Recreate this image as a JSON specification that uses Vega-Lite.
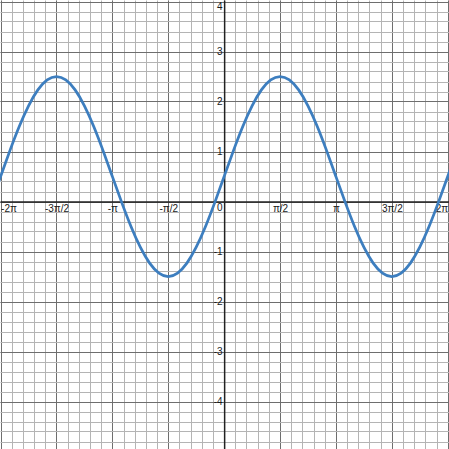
{
  "$schema": "https://vega.github.io/schema/vega-lite/v6.json",
  "width": 449,
  "height": 449,
  "padding": 0,
  "autosize": {"type": "none"},
  "background": "white",
  "config": {
    "view": {"stroke": null},
    "axis": {
      "labelFont": "Liberation Sans",
      "labelFontSize": 10,
      "labelColor": "#1a1a1a",
      "title": null
    }
  },
  "data": {
    "values": [
      {"x": -6.544985, "y": -0.017638},
      {"x": -6.283185, "y": 0.5},
      {"x": -6.021386, "y": 1.017638},
      {"x": -5.759587, "y": 1.5},
      {"x": -5.497787, "y": 1.914214},
      {"x": -5.235988, "y": 2.232051},
      {"x": -4.974188, "y": 2.431852},
      {"x": -4.712389, "y": 2.5},
      {"x": -4.45059, "y": 2.431852},
      {"x": -4.18879, "y": 2.232051},
      {"x": -3.926991, "y": 1.914214},
      {"x": -3.665191, "y": 1.5},
      {"x": -3.403392, "y": 1.017638},
      {"x": -3.141593, "y": 0.5},
      {"x": -2.879793, "y": -0.017638},
      {"x": -2.617994, "y": -0.5},
      {"x": -2.356194, "y": -0.914214},
      {"x": -2.094395, "y": -1.232051},
      {"x": -1.832596, "y": -1.431852},
      {"x": -1.570796, "y": -1.5},
      {"x": -1.308997, "y": -1.431852},
      {"x": -1.047198, "y": -1.232051},
      {"x": -0.785398, "y": -0.914214},
      {"x": -0.523599, "y": -0.5},
      {"x": -0.261799, "y": -0.017638},
      {"x": 0, "y": 0.5},
      {"x": 0.261799, "y": 1.017638},
      {"x": 0.523599, "y": 1.5},
      {"x": 0.785398, "y": 1.914214},
      {"x": 1.047198, "y": 2.232051},
      {"x": 1.308997, "y": 2.431852},
      {"x": 1.570796, "y": 2.5},
      {"x": 1.832596, "y": 2.431852},
      {"x": 2.094395, "y": 2.232051},
      {"x": 2.356194, "y": 1.914214},
      {"x": 2.617994, "y": 1.5},
      {"x": 2.879793, "y": 1.017638},
      {"x": 3.141593, "y": 0.5},
      {"x": 3.403392, "y": -0.017638},
      {"x": 3.665191, "y": -0.5},
      {"x": 3.926991, "y": -0.914214},
      {"x": 4.18879, "y": -1.232051},
      {"x": 4.45059, "y": -1.431852},
      {"x": 4.712389, "y": -1.5},
      {"x": 4.974188, "y": -1.431852},
      {"x": 5.235988, "y": -1.232051},
      {"x": 5.497787, "y": -0.914214},
      {"x": 5.759587, "y": -0.5},
      {"x": 6.021386, "y": -0.017638},
      {"x": 6.283185, "y": 0.5},
      {"x": 6.544985, "y": 1.017638}
    ]
  },
  "layer": [
    {
      "mark": {"type": "line", "opacity": 0},
      "encoding": {
        "x": {
          "field": "x",
          "type": "quantitative",
          "scale": {"domain": [-6.3, 6.32], "nice": false, "zero": false},
          "axis": {
            "orient": "bottom",
            "grid": true,
            "gridColor": "#b4b4b4",
            "gridWidth": 1,
            "labels": false,
            "ticks": false,
            "domain": false,
            "values": [-6.283185, -5.969026, -5.654867, -5.340708, -5.026548, -4.712389, -4.39823, -4.08407, -3.769911, -3.455752, -3.141593, -2.827433, -2.513274, -2.199115, -1.884956, -1.570796, -1.256637, -0.942478, -0.628319, -0.314159, 0, 0.314159, 0.628319, 0.942478, 1.256637, 1.570796, 1.884956, 2.199115, 2.513274, 2.827433, 3.141593, 3.455752, 3.769911, 4.08407, 4.39823, 4.712389, 5.026548, 5.340708, 5.654867, 5.969026, 6.283185]
          }
        },
        "y": {
          "field": "y",
          "type": "quantitative",
          "scale": {"domain": [-4.95, 4.03], "nice": false, "zero": false},
          "axis": {
            "orient": "left",
            "grid": true,
            "gridColor": "#b4b4b4",
            "gridWidth": 1,
            "labels": false,
            "ticks": false,
            "domain": false,
            "values": [-4.8, -4.6, -4.4, -4.2, -4, -3.8, -3.6, -3.4, -3.2, -3, -2.8, -2.6, -2.4, -2.2, -2, -1.8, -1.6, -1.4, -1.2, -1, -0.8, -0.6, -0.4, -0.2, 0, 0.2, 0.4, 0.6, 0.8, 1, 1.2, 1.4, 1.6, 1.8, 2, 2.2, 2.4, 2.6, 2.8, 3, 3.2, 3.4, 3.6, 3.8, 4]
          }
        }
      }
    },
    {
      "mark": {"type": "line", "opacity": 0},
      "encoding": {
        "x": {
          "field": "x",
          "type": "quantitative",
          "scale": {"domain": [-6.3, 6.32], "nice": false, "zero": false},
          "axis": {
            "orient": "bottom",
            "grid": true,
            "gridColor": "#6e6e6e",
            "gridWidth": 1,
            "labels": false,
            "ticks": false,
            "domain": false,
            "values": [-6.283185, -4.712389, -3.141593, -1.570796, 0, 1.570796, 3.141593, 4.712389, 6.283185]
          }
        },
        "y": {
          "field": "y",
          "type": "quantitative",
          "scale": {"domain": [-4.95, 4.03], "nice": false, "zero": false},
          "axis": {
            "orient": "left",
            "grid": true,
            "gridColor": "#6e6e6e",
            "gridWidth": 1,
            "labels": false,
            "ticks": false,
            "domain": false,
            "values": [-4, -3, -2, -1, 0, 1, 2, 3, 4]
          }
        }
      }
    },
    {
      "mark": {
        "type": "line",
        "color": "#3d7ebf",
        "strokeWidth": 2.75,
        "interpolate": "natural",
        "clip": true
      },
      "encoding": {
        "x": {
          "field": "x",
          "type": "quantitative",
          "scale": {"domain": [-6.3, 6.32], "nice": false, "zero": false},
          "axis": {
            "orient": "bottom",
            "offset": -247.5,
            "grid": false,
            "ticks": false,
            "domain": true,
            "domainColor": "#222222",
            "domainWidth": 1.5,
            "labelPadding": 2,
            "labelFlush": 5,
            "values": [-6.283185, -4.712389, -3.141593, -1.570796, 0, 1.570796, 3.141593, 4.712389, 6.283185],
            "labelExpr": "['-2π', '-3π/2', '-π', '-π/2', '', 'π/2', 'π', '3π/2', '2π'][round(datum.value / (PI / 2)) + 4]"
          }
        },
        "y": {
          "field": "y",
          "type": "quantitative",
          "scale": {"domain": [-4.95, 4.03], "nice": false, "zero": false},
          "axis": {
            "orient": "left",
            "offset": -224.14,
            "grid": false,
            "ticks": false,
            "domain": true,
            "domainColor": "#222222",
            "domainWidth": 1.5,
            "labelPadding": 2,
            "labelFlush": 5,
            "labelOffset": {"condition": {"test": "datum.value === 0", "value": 6}, "value": 0},
            "values": [-4, -3, -2, -1, 0, 1, 2, 3, 4],
            "labelExpr": "datum.value < 0 ? '-' + abs(datum.value) : '' + datum.value"
          }
        }
      }
    }
  ],
  "resolve": {"axis": {"x": "independent", "y": "independent"}}
}
